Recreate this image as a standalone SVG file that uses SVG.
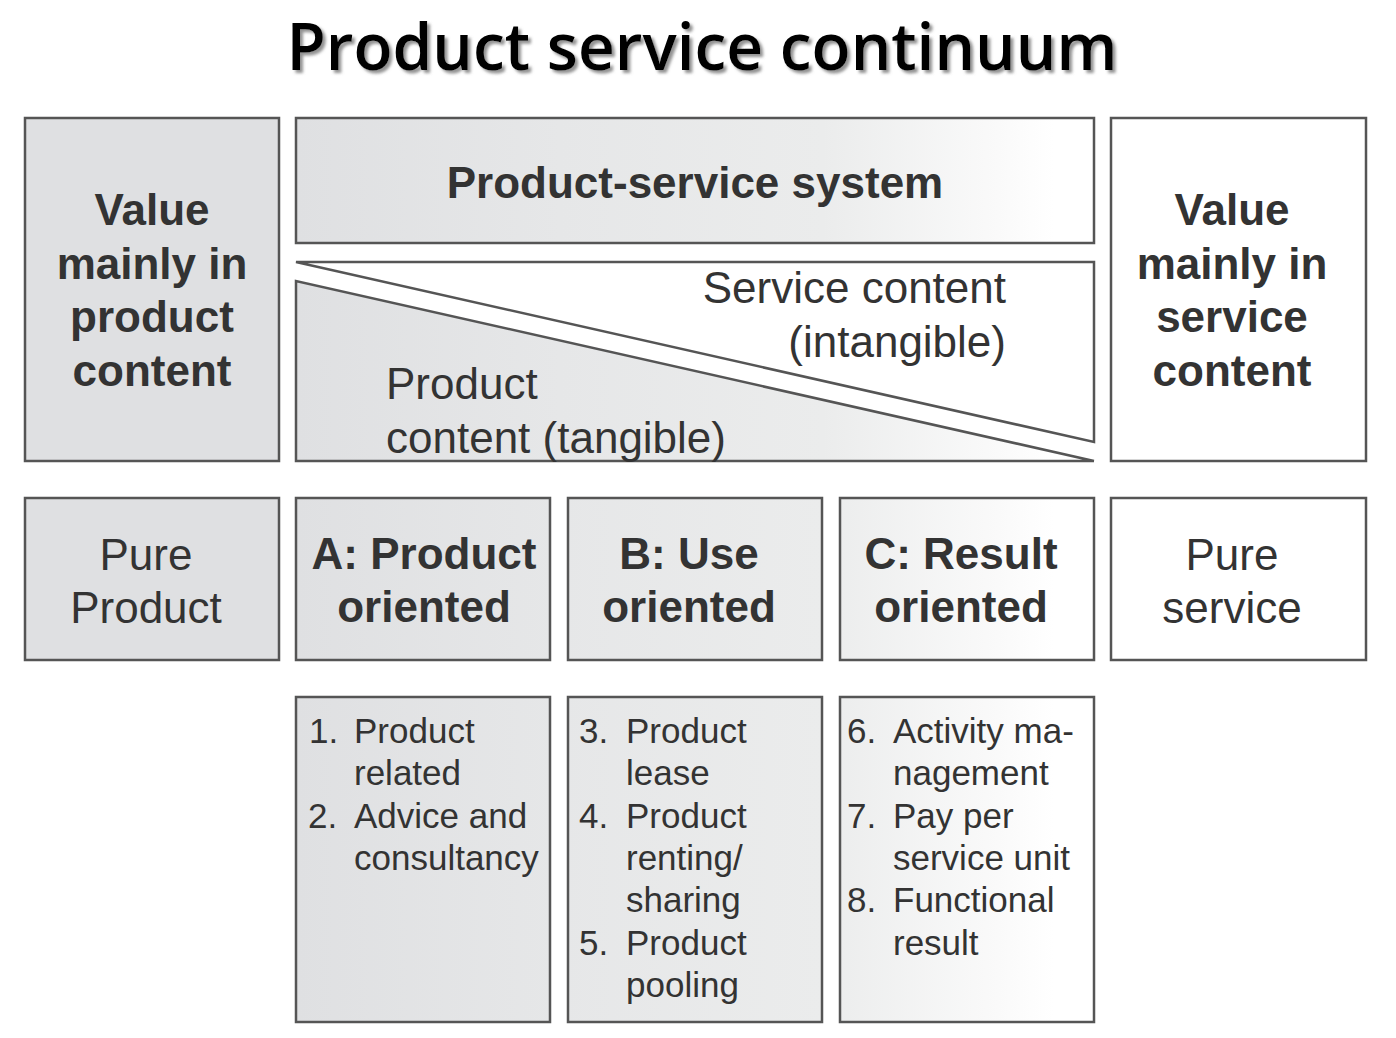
<svg xmlns="http://www.w3.org/2000/svg" width="1396" height="1038" viewBox="0 0 1396 1038">
<defs>
<linearGradient id="g" gradientUnits="userSpaceOnUse" x1="296" y1="0" x2="1094" y2="0">
<stop offset="0" stop-color="#dfe0e2"/>
<stop offset="0.33" stop-color="#e6e7e8"/>
<stop offset="0.66" stop-color="#ebecec"/>
<stop offset="0.88" stop-color="#fafafa"/>
<stop offset="0.95" stop-color="#ffffff"/>
<stop offset="1" stop-color="#ffffff"/>
</linearGradient>
<filter id="sh" x="-10%" y="-40%" width="120%" height="200%">
<feDropShadow dx="3" dy="3" stdDeviation="1.5" flood-color="#777" flood-opacity="0.8"/>
</filter>
</defs>
<style>
.box{stroke:#555;stroke-width:2.5}
.gray{fill:#dfe0e2}
.grad{fill:url(#g)}
.white{fill:#fff}
text{font-family:"Liberation Sans",Arial,sans-serif;fill:#333;font-size:44px}
.b{font-weight:bold}
.c{text-anchor:middle}
.r{text-anchor:end}
.s{font-size:35px}
.title{font-family:"Open Sans","Noto Sans",sans-serif;font-weight:600;fill:#000;font-size:65px}
</style>
<rect width="1396" height="1038" fill="#fff"/>
<g id="title" filter="url(#sh)">
<g transform="translate(702,70) scale(0.985,1)">
<text class="title c" x="0" y="0">Product service continuum</text>
</g>
</g>

<g id="value-product">
<rect class="box gray" x="25" y="118" width="254" height="343"/>
<text class="b c" x="152" y="225">Value</text>
<text class="b c" x="152" y="279">mainly in</text>
<text class="b c" x="152" y="332">product</text>
<text class="b c" x="152" y="386">content</text>
</g>

<g id="pss">
<rect class="box grad" x="296" y="118" width="798" height="125"/>
<text class="b c" x="695" y="198">Product-service system</text>
</g>

<g id="service-content">
<polygon class="box white" points="296,262 1094,262 1094,442"/>
<text class="r" x="1006" y="303">Service content</text>
<text class="r" x="1006" y="357">(intangible)</text>
</g>

<g id="product-content">
<path class="grad" d="M296,281 L1094,461 L296,461 Z"/>
<path d="M1094,461 L296,281 L296,461 L1094,461" fill="none" stroke="#555" stroke-width="2.5"/>
<text x="386" y="399">Product</text>
<text x="386" y="453">content (tangible)</text>
</g>

<g id="value-service">
<rect class="box white" x="1111" y="118" width="255" height="343"/>
<text class="b c" x="1232" y="225">Value</text>
<text class="b c" x="1232" y="279">mainly in</text>
<text class="b c" x="1232" y="332">service</text>
<text class="b c" x="1232" y="386">content</text>
</g>

<g id="pure-product">
<rect class="box gray" x="25" y="498" width="254" height="162"/>
<text class="c" x="146" y="570">Pure</text>
<text class="c" x="146" y="623">Product</text>
</g>

<g id="a-product">
<rect class="box grad" x="296" y="498" width="254" height="162"/>
<text class="b c" x="424" y="569">A: Product</text>
<text class="b c" x="424" y="622">oriented</text>
</g>

<g id="b-use">
<rect class="box grad" x="568" y="498" width="254" height="162"/>
<text class="b c" x="689" y="569">B: Use</text>
<text class="b c" x="689" y="622">oriented</text>
</g>

<g id="c-result">
<rect class="box grad" x="840" y="498" width="254" height="162"/>
<text class="b c" x="961" y="569">C: Result</text>
<text class="b c" x="961" y="622">oriented</text>
</g>

<g id="pure-service">
<rect class="box white" x="1111" y="498" width="255" height="162"/>
<text class="c" x="1232" y="570">Pure</text>
<text class="c" x="1232" y="623">service</text>
</g>

<g id="list-a">
<rect class="box grad" x="296" y="697" width="254" height="325"/>
<text class="s" x="309" y="743">1.</text>
<text class="s" x="354" y="743">Product</text>
<text class="s" x="354" y="785">related</text>
<text class="s" x="308" y="828">2.</text>
<text class="s" x="354" y="828">Advice and</text>
<text class="s" x="354" y="870">consultancy</text>
</g>

<g id="list-b">
<rect class="box grad" x="568" y="697" width="254" height="325"/>
<text class="s" x="579" y="743">3.</text>
<text class="s" x="626" y="743">Product</text>
<text class="s" x="626" y="785">lease</text>
<text class="s" x="579" y="828">4.</text>
<text class="s" x="626" y="828">Product</text>
<text class="s" x="626" y="870">renting/</text>
<text class="s" x="626" y="912">sharing</text>
<text class="s" x="579" y="955">5.</text>
<text class="s" x="626" y="955">Product</text>
<text class="s" x="626" y="997">pooling</text>
</g>

<g id="list-c">
<rect class="box grad" x="840" y="697" width="254" height="325"/>
<text class="s" x="847" y="743">6.</text>
<text class="s" x="893" y="743">Activity ma-</text>
<text class="s" x="893" y="785">nagement</text>
<text class="s" x="847" y="828">7.</text>
<text class="s" x="893" y="828">Pay per</text>
<text class="s" x="893" y="870">service unit</text>
<text class="s" x="847" y="912">8.</text>
<text class="s" x="893" y="912">Functional</text>
<text class="s" x="893" y="955">result</text>
</g>

<g id="connectors"></g>
</svg>
